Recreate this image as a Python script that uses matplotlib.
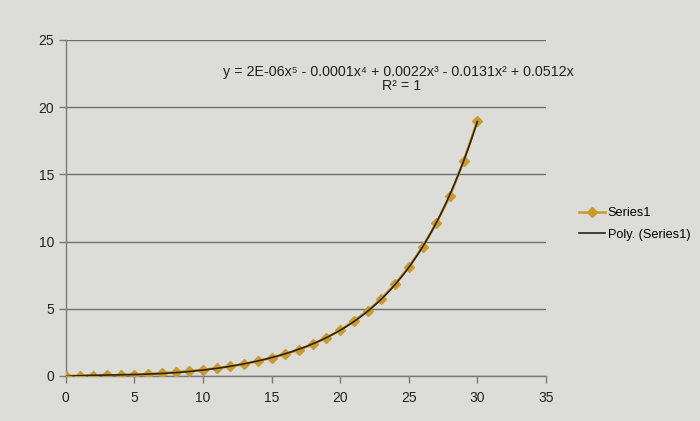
import numpy as np
import matplotlib.pyplot as plt
from matplotlib.lines import Line2D

# data
x_vals = list(range(0, 31))
y_vals = [0.0, 0.01, 0.02, 0.04, 0.06, 0.09, 0.15, 0.21, 0.28, 0.36,
          0.46, 0.58, 0.72, 0.90, 1.10, 1.35, 1.62, 1.95, 2.35, 2.85,
          3.40, 4.10, 4.85, 5.75, 6.85, 8.10, 9.60, 11.35, 13.40, 16.00,
          19.00]
x_ticks = [0, 5, 10, 15, 20, 25, 30, 35]
y_ticks = [0, 5, 10, 15, 20, 25]
equation = "y = 2E-06x\u2075 - 0.0001x\u2074 + 0.0022x\u00b3 - 0.0131x\u00b2 + 0.0512x"
r_squared = "R\u00b2 = 1"

plt.rcParams['font.family'] = ['Liberation Sans', 'DejaVu Sans']

bg = '#dcdcd9'
gold = '#c99a2e'
dark = '#2e2210'

fig = plt.figure(figsize=(7, 4.21), dpi=100, facecolor=bg)
ax = fig.add_axes([0.094, 0.107, 0.686, 0.798])
ax.set_facecolor(bg)

# series and its polynomial trendline
ax.plot(x_vals, y_vals, color=gold, lw=1.8, marker='D', ms=4.6,
        mfc=gold, mec=gold, zorder=3)
coef = np.polyfit(x_vals, y_vals, 5)
xs = np.linspace(x_vals[0], x_vals[-1], 300)
ax.plot(xs, np.polyval(coef, xs), color=dark, lw=1.2, zorder=4)

ax.set_xlim(0, 35)
ax.set_ylim(0, 25)
ax.set_xticks(x_ticks)
ax.set_yticks(y_ticks)
ax.yaxis.grid(True, color='#6e6e6e', lw=1.0)
ax.set_axisbelow(True)
for s in ['top', 'right']:
    ax.spines[s].set_visible(False)
for s in ['left', 'bottom']:
    ax.spines[s].set_color('#7a7a7a')
    ax.spines[s].set_linewidth(1.0)
ax.tick_params(axis='both', colors='#7a7a7a', labelcolor='#222222',
               labelsize=10, length=5, width=1.0)
ax.tick_params(axis='x', pad=6)

fig.text(0.569, 0.830, equation, ha='center', va='center', fontsize=10.3,
         color='#222222')
fig.text(0.574, 0.795, r_squared, ha='center', va='center', fontsize=10.3,
         color='#222222')

handles = [Line2D([], [], color=gold, lw=1.8, marker='D', ms=4.6,
                  mfc=gold, mec=gold),
           Line2D([], [], color=dark, lw=1.2)]
fig.legend(handles, ['Series1', 'Poly. (Series1)'], loc='center left',
           bbox_to_anchor=(0.81, 0.468), frameon=False, fontsize=9.2,
           handlelength=2.1, handletextpad=0.2, labelspacing=0.75)

fig.savefig('out.png', dpi=100, facecolor=bg)
